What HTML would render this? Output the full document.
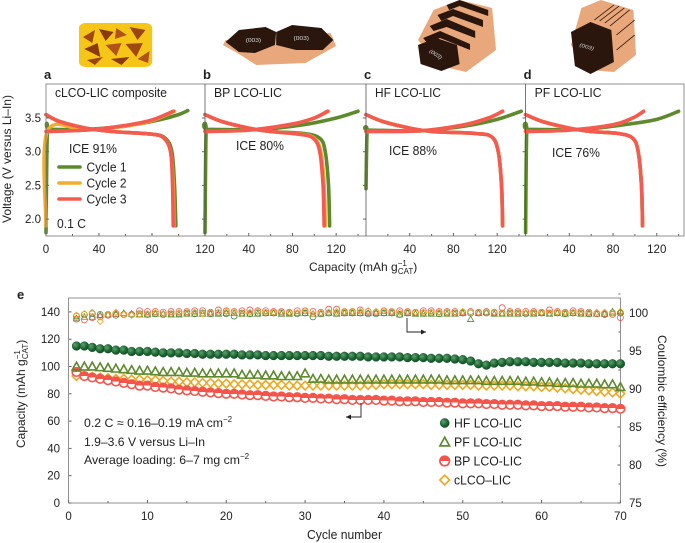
<!DOCTYPE html>
<html><head><meta charset="utf-8"><style>
body{margin:0;background:#fff;width:685px;height:543px;overflow:hidden;font-family:"Liberation Sans",sans-serif}
svg{position:absolute;left:0;top:0}
text{font-family:"Liberation Sans",sans-serif;fill:#222}
</style></head><body>
<svg id="s" width="685" height="543" viewBox="0 0 685 543">
<defs>
<radialGradient id="hfg" cx="0.35" cy="0.35" r="0.7"><stop offset="0" stop-color="#5fa070"/><stop offset="0.6" stop-color="#1f6a35"/><stop offset="1" stop-color="#0f4a22"/></radialGradient>
<linearGradient id="bpg" x1="0" y1="0" x2="0" y2="1"><stop offset="0.5" stop-color="#f4554b"/><stop offset="0.5" stop-color="#fff"/></linearGradient>
</defs>
<g transform="translate(79,23) scale(1.33,1)">
<rect x="0" y="0" width="55" height="44" rx="5" fill="#f5c518"/>
<polygon points="3,14 12,7 10,20" fill="#a0480f"/><polygon points="15,6 26,9 20,18" fill="#8a3a0c"/><polygon points="28,5 36,12 27,16" fill="#b0521a"/>
<polygon points="38,4 50,7 44,17" fill="#9a4512"/><polygon points="4,26 14,20 16,34" fill="#8a3a0c"/><polygon points="20,22 32,20 28,33" fill="#b0521a"/>
<polygon points="35,21 48,20 43,34" fill="#a0480f"/><polygon points="6,37 18,34 12,42" fill="#9a4512"/><polygon points="24,36 38,34 32,42" fill="#8a3a0c"/><polygon points="44,36 53,28 52,40" fill="#b0521a"/>
</g>
<g transform="translate(223,25) scale(1.33,1)">
<polygon points="0,20 12,29 25,40 62,38 85,21 81,8 41,12 2,15" fill="#e8a87c"/>
<polygon points="2,17 12,5 32,2 40,7 39,20 24,28 12,27" fill="#2a160c"/>
<polygon points="40,7 52,0 74,3 83,15 75,25 55,25 40,20" fill="#2a160c"/>
<text x="17" y="17" font-size="5" style="fill:#ddd">(003)</text><text x="53" y="15" font-size="5" style="fill:#ddd">(003)</text>
</g>
<g transform="translate(418,0) scale(1.3,1)">
<polygon points="12,10 32,0 57,8 60,50 37,72 17,66 0,40" fill="#e8a87c"/>
<g fill="#2a160c"><polygon points="22,5 32,0 54,10 54,16 32,6 24,10"/><polygon points="15,15 27,9 50,20 50,27 27,16 18,21"/><polygon points="9,26 22,19 44,31 44,38 22,27 12,31"/><polygon points="4,38 17,31 40,44 40,50 17,38 7,43"/></g>
<polygon points="0,45 14,38 30,45 32,64 18,71 2,64" fill="#2a160c"/>
<text x="7" y="55" font-size="5" style="fill:#ddd" transform="rotate(40 12 55)">(003)</text>
</g>
<g transform="translate(571,0) scale(1.3,1)">
<polygon points="8,8 23,0 48,10 50,55 33,72 15,70 0,45" fill="#e8a87c"/>
<polygon points="0,32 15,22 31,30 33,62 15,74 3,66" fill="#2a160c"/>
<g stroke="#3a2010" stroke-width="0.8"><line x1="18" y1="20" x2="33" y2="5"/><line x1="22" y1="21" x2="37" y2="6"/><line x1="26" y1="23" x2="41" y2="8"/><line x1="30" y1="26" x2="45" y2="10"/><line x1="35" y1="35" x2="49" y2="20"/><line x1="35" y1="50" x2="49" y2="35"/></g>
<text x="6" y="47" font-size="5" style="fill:#ddd" transform="rotate(20 8 47)">(003)</text>
</g>
<g id="topg"></g>
<g id="botg"></g>
</svg>
<script>
const NS='http://www.w3.org/2000/svg';
function el(t,a,p){const e=document.createElementNS(NS,t);for(const k in a)e.setAttribute(k,a[k]);p.appendChild(e);return e;}
const panelTitles=['cLCO-LIC composite','BP LCO-LIC','HF LCO-LIC','PF LCO-LIC'];
const panelLetters=['a','b','c','d'];
const panelIce=['ICE 91%','ICE 80%','ICE 88%','ICE 76%'];
const cycleNames=['Cycle 1','Cycle 2','Cycle 3'];
const voltTicks=[2.0,2.5,3.0,3.5];
const capTicksA=[0,40,80,120];
const capTicksB=[40,80,120];
const chargeA=[[[0,1.8],[1,3.3],[3,3.33],[30,3.33],[60,3.38],[85,3.47],[100,3.55],[107,3.61]],[[0,1.9],[1,3.3],[30,3.32],[60,3.38],[80,3.46],[97,3.6]],[[0,3.3],[30,3.32],[60,3.39],[80,3.47],[96,3.6]]];
const dischA=[[[0,3.55],[10,3.45],[30,3.35],[50,3.3],[80,3.26],[90,3.2],[95,3.0],[97,2.5],[98,1.9]],[[0,3.55],[10,3.45],[30,3.35],[50,3.3],[80,3.26],[89,3.2],[94,3.0],[96,2.5],[96.5,1.9]],[[0,3.55],[10,3.45],[30,3.35],[50,3.3],[80,3.26],[89,3.2],[94,3.0],[95.5,2.5],[96,1.9]]];
const chargeB=[[[0,1.8],[1,3.3],[3,3.33],[50,3.33],[90,3.4],[120,3.5],[140,3.6]],[[0,3.3],[40,3.32],[80,3.41],[100,3.5],[113,3.6]],[[0,3.3],[40,3.32],[80,3.41],[100,3.5],[112,3.6]]];
const dischB=[[[0,3.55],[15,3.45],[40,3.35],[60,3.3],[90,3.27],[105,3.2],[110,3.0],[113,2.5],[114,1.9]],[[0,3.55],[15,3.45],[40,3.35],[60,3.3],[88,3.26],[100,3.2],[106,3.0],[109,2.5],[110,1.9]],[[0,3.55],[15,3.45],[40,3.35],[60,3.3],[86,3.26],[99,3.2],[105,3.0],[108,2.5],[109,1.9]]];
const chargeC=[[[0,2.45],[1,3.3],[3,3.32],[50,3.31],[90,3.38],[120,3.48],[142,3.6]],[[0,3.3],[50,3.31],[90,3.4],[112,3.5],[125,3.6]],[[0,3.3],[50,3.31],[90,3.4],[112,3.5],[125,3.6]]];
const dischC=[[[0,3.55],[15,3.45],[40,3.35],[60,3.3],[100,3.27],[115,3.22],[121,3.0],[124,2.5],[125,1.9]],[[0,3.55],[15,3.45],[40,3.35],[60,3.3],[100,3.27],[115,3.22],[121,3.0],[124,2.5],[125,1.9]],[[0,3.55],[15,3.45],[40,3.35],[60,3.3],[100,3.27],[115,3.22],[121,3.0],[124,2.5],[125,1.9]]];
const chargeD=[[[0,1.8],[1,3.3],[3,3.33],[50,3.33],[90,3.4],[120,3.48],[140,3.6]],[[0,3.3],[40,3.32],[80,3.4],[98,3.5],[108,3.6]],[[0,3.3],[40,3.32],[80,3.4],[98,3.5],[108,3.6]]];
const dischD=[[[0,3.55],[15,3.45],[40,3.35],[60,3.3],[85,3.27],[98,3.2],[103,3.0],[106,2.5],[107,1.9]],[[0,3.55],[15,3.45],[40,3.35],[60,3.3],[85,3.27],[98,3.2],[103,3.0],[106,2.5],[107,1.9]],[[0,3.55],[15,3.45],[40,3.35],[60,3.3],[85,3.27],[98,3.2],[103,3.0],[106,2.5],[107,1.9]]];
const cycles=Array.from({length:70},(_,i)=>i+1);
const capTicks=[0,20,40,60,80,100,120,140];
const ceTicks=[75,80,85,90,95,100];
const cycleTicks=[0,10,20,30,40,50,60,70];
const hfCap=[115,115,114,113,113,112,112,111,111,111,110.5,110,110,110,109.5,109.5,109,109,109,109,109,108.5,108.5,108.5,108,108,108,108,108,108,108,108,107.5,107.5,107.5,107.5,107.5,107,107,107,107,107,106.5,106.5,106.5,106,106,106,105.5,105,104,102,101,102.5,103,103.5,103.5,103.5,103,103,103,103,102.5,102.5,102.5,102,102,102,102,102];
const pfCap=[100,100,100,99.5,99,98.5,98,97.5,97,97,96.5,96,96,96,95.5,95.5,95,95,95,95,95,94,94,94,93.5,93.5,93,93,93,95,91,91,90.5,90.5,90.5,90.5,90.5,90.5,90.5,90.5,90.5,90.5,90.5,90.5,90.5,90.5,90.5,90,90,90,90,90,89.5,89.5,89.5,89.5,89.5,89,89,88.5,88.5,88,88,88,87.5,87.5,87.5,87,87,85];
const bpCap=[96,93,92,91,90,89,88,87,86,86,85,84.5,84,83,82.5,82,81.5,81,80.5,80,80,79.5,79,79,78.5,78,78,77.5,77.5,77,77,76.5,76.5,76,76,75.5,75.5,75.5,75.5,75,75,74.5,74.5,74.5,74,74,74,73.5,73.5,73,73,73,72.5,72.5,72,72,72,71.5,71.5,71,71,71,70.5,70.5,70.5,70,70,69.5,69.5,69];
const clcoCap=[93,93,92.5,92,91.5,91,91,90.5,90.5,90,90,89.5,89,89,88.5,88.5,88,88,87.5,87.5,87,87,87,86.5,86.5,86.5,86.5,86,86,86,86,86,86,86,86,86,86,86.5,86.5,87,87,87,87,87,87,86.5,86.5,86.5,86.5,86.5,86.5,86,86,86,86,86,85.5,85.5,85.5,85,85,84.5,84,83.5,83,82.5,82,81.5,81,80];
const hfCE=[99.6,99.8,99.9,99.8,99.8,99.7,99.8,99.8,99.9,99.8,99.9,99.8,99.9,99.9,100,99.9,100,99.9,100,99.9,99.6,100,99.9,100,100,100,100,100,99.9,100,99.5,99.9,100,100,100,100,100,99.9,99.9,100,100,99.8,100,100,100,100,99.9,100,100,100,100,100,100,100,100,100,100,99.9,100,100,100,100,99.9,100,100,99.9,99.9,99.8,100,100];
const pfCE=[99.3,99.5,99.5,99.7,99.8,99.9,100,99.9,99.8,99.8,99.9,99.9,99.8,99.8,99.9,99.9,99.9,99.9,99.9,100,100,99.9,99.9,99.9,100,100,99.9,99.9,100,100,99.9,99.9,100,99.9,100,100,100,100,100,100,100,99.8,100,99.9,99.9,99.9,99.9,99.9,99.9,100,99.2,100,100.1,99.9,99.9,99.9,99.9,100,99.9,100,99.9,100,99.9,100,99.9,99.9,99.9,99.9,100.2,100.2];
const bpCE=[99.2,99.1,99.4,99.5,99.7,99.9,99.8,99.8,100.3,100.2,100.2,100.1,100.2,100.2,100.2,100.3,100.3,100.1,100.4,100.3,100.2,100.3,100.4,100.3,100.3,100.2,100.2,100.1,100.3,100.3,100.2,100.1,100.5,100.5,100.2,100.2,100.4,100.2,100.1,100.3,100.2,100.3,100.2,100.1,100.3,100.3,100.2,100.2,100.2,100.1,100.2,100.1,100.2,100.1,100.7,100.2,100.2,100.2,100.2,100.1,100.4,100.2,100.1,100.3,100.2,100.1,99.9,99.9,99.8,99.4];
const clcoCE=[99.7,99.9,100.1,98.9,99.8,100.1,99.8,99.7,99.8,99.9,100,99.9,99.9,100,100,100.1,99.9,100.1,100.1,100.2,100.1,100,100.1,100.2,100.1,100.1,100.2,100.1,100,100.3,99.9,100,100.1,100.2,100.2,100.2,100.2,100.3,100.2,100.3,100.2,100.1,100.2,100.1,100.1,100.1,100.1,100.1,100,100.2,100.1,100.1,100.1,100.1,100,100,100,100,100,100.1,100,100.1,100.1,100.1,100,100.1,100.1,100.1,100,100.2];
const legendNames=['HF LCO-LIC','PF LCO-LIC','BP LCO-LIC','cLCO\u2013LIC'];

function fit(t,w){t.setAttribute('textLength',w);t.setAttribute('lengthAdjust','spacingAndGlyphs');}
const tg=document.getElementById('topg');
const colors=['#5d8a2c','#f2ac2e','#f45a50'];
const vy=v=>118+(3.5-v)*67.4;
const PL=46,PR=684,PT=84,PB=236;
const panels=[{x0:46,k:1.325,ch:chargeA,di:dischA},{x0:205,k:1.093,ch:chargeB,di:dischB},{x0:366,k:1.093,ch:chargeC,di:dischC},{x0:525.6,k:1.093,ch:chargeD,di:dischD}];
function smooth(pts){let d='M'+pts[0][0]+','+pts[0][1];for(let i=0;i<pts.length-1;i++){const p0=pts[i-1]||pts[i],p1=pts[i],p2=pts[i+1],p3=pts[i+2]||p2;
d+=' C'+(p1[0]+(p2[0]-p0[0])/6)+','+(p1[1]+(p2[1]-p0[1])/6)+' '+(p2[0]-(p3[0]-p1[0])/6)+','+(p2[1]-(p3[1]-p1[1])/6)+' '+p2[0]+','+p2[1];}return d;}
const titleW=[112,68,66,67];
const iceX=[69,236,389,552], iceY=[153,150,155,157];
panels.forEach((p,pi)=>{
  const cx=c=>p.x0+c*p.k;
  const lt=el('text',{x:p.x0-2,y:79,'font-size':13,'font-weight':'bold'},tg);lt.textContent=panelLetters[pi];
  
  
  const tt=el('text',{x:p.x0+9,y:97,'font-size':12.5},tg);tt.textContent=panelTitles[pi];fit(tt,titleW[pi]);
  
  
  for(let c=0;c<3;c++){
    [p.ch[c],p.di[c]].forEach(arr=>{
      const pts=arr.map(q=>[cx(q[0]),vy(q[1])]);
      const path=el('path',{d:smooth(pts),fill:'none',stroke:colors[c],'stroke-width':3.6,'stroke-linecap':'round','stroke-linejoin':'round'},tg);
      
      
    });
  }
  const ice=el('text',{x:iceX[pi],y:iceY[pi],'font-size':12.5},tg);ice.textContent=panelIce[pi];fit(ice,48);
  
  
  const ticks=pi===0?capTicksA:capTicksB;
  ticks.forEach(t=>{const x=cx(t);el('line',{x1:x,x2:x,y1:PB,y2:PB-3,stroke:'#666'},tg);
    const tx=el('text',{x:x,y:253,'font-size':11.5,'text-anchor':'middle'},tg);tx.textContent=t;
    
    });
  [20,60,100,140].forEach(t=>{const x=cx(t);if(x<p.x0+157)el('line',{x1:x,x2:x,y1:PB,y2:PB-2,stroke:'#666'},tg);});
  if(pi>0)[2.0,2.5,3.0,3.5].forEach(v=>el('line',{x1:p.x0-3,x2:p.x0,y1:vy(v),y2:vy(v),stroke:'#666'},tg));
});
el('rect',{x:PL,y:PT,width:PR-PL,height:PB-PT,fill:'none',stroke:'#777','stroke-width':0.8},tg);
[205,366,525.6].forEach(x=>el('line',{x1:x,x2:x,y1:PT,y2:PB,stroke:'#555','stroke-width':0.8},tg));
voltTicks.forEach(v=>{el('line',{x1:PL,x2:PL+3,y1:vy(v),y2:vy(v),stroke:'#666'},tg);
  const t=el('text',{x:41,y:vy(v)+4,'font-size':11.5,'text-anchor':'end'},tg);t.textContent=v.toFixed(1);
  
  });
const vl=el('text',{transform:'translate(11,159) rotate(-90)','font-size':12,'text-anchor':'middle'},tg);vl.textContent='Voltage (V versus Li\u2013In)';fit(vl,128);


const cl=el('text',{x:309,y:271,'font-size':12},tg);cl.innerHTML='Capacity (mAh g<tspan dy="-5" font-size="8">\u22121</tspan><tspan dx="-9" dy="8" font-size="8">CAT</tspan><tspan dy="-3">)</tspan>';


cycleNames.forEach((n,i)=>{const y=167+i*16;el('line',{x1:59,x2:80,y1:y,y2:y,stroke:colors[i],'stroke-width':3.6,'stroke-linecap':'round'},tg);
  const t=el('text',{x:86.5,y:y+4.5,'font-size':12.5},tg);t.textContent=n;fit(t,40);
  
  });
const rc=el('text',{x:57,y:228,'font-size':12.5},tg);rc.textContent='0.1 C';fit(rc,29);



const bg=document.getElementById('botg');
const BL=68.6,BR=620.4,BT=298,BB=503;
const X=c=>BL+c*(BR-BL)/70, Y=v=>BB-v*191.1/140, YR=v=>BB-(v-75)*7.6;
el('rect',{x:BL,y:BT,width:BR-BL,height:BB-BT,fill:'none',stroke:'#777','stroke-width':0.8},bg);
capTicks.forEach(v=>{el('line',{x1:BL,x2:BL+3,y1:Y(v),y2:Y(v),stroke:'#666'},bg);
  const t=el('text',{x:60,y:Y(v)+4,'font-size':11.5,'text-anchor':'end'},bg);t.textContent=v;
  
  });
ceTicks.forEach(v=>{el('line',{x1:BR-3,x2:BR,y1:YR(v),y2:YR(v),stroke:'#666'},bg);
  el('line',{x1:BR-2,x2:BR,y1:YR(v+2.5),y2:YR(v+2.5),stroke:'#666'},bg);
  const t=el('text',{x:629,y:YR(v)+4,'font-size':11.5},bg);t.textContent=v;
  
  });
cycleTicks.forEach(c=>{el('line',{x1:X(c),x2:X(c),y1:BB,y2:BB-3,stroke:'#666'},bg);
  if(c<70)el('line',{x1:X(c+5),x2:X(c+5),y1:BB,y2:BB-2,stroke:'#666'},bg);
  const t=el('text',{x:X(c),y:520,'font-size':11.5,'text-anchor':'middle'},bg);t.textContent=c;
  
  });
const el1=el('text',{x:17,y:299,'font-size':13,'font-weight':'bold'},bg);el1.textContent='e';


const xt=el('text',{x:307,y:539,'font-size':12.5},bg);xt.textContent='Cycle number';fit(xt,75);


const yt=el('text',{transform:'translate(25,448) rotate(-90)','font-size':12},bg);yt.innerHTML='Capacity (mAh g<tspan dy="-5" font-size="8">\u22121</tspan><tspan dx="-9" dy="8" font-size="8">CAT</tspan><tspan dy="-3">)</tspan>';


const yt2=el('text',{transform:'translate(658,401) rotate(90)','font-size':12,'text-anchor':'middle'},bg);yt2.textContent='Coulombic efficiency (%)';fit(yt2,132);


function marker(kind,x,y,r,sw){
  let m;
  if(kind==='hf')m=el('circle',{cx:x,cy:y,r:r,fill:'url(#hfg)',stroke:'#0f4a22','stroke-width':0.4},bg);
  else if(kind==='pf')m=el('polygon',{points:`${x},${y-r} ${x+r},${y+r*0.8} ${x-r},${y+r*0.8}`,fill:'none',stroke:'#5d8a2c','stroke-width':sw},bg);
  else if(kind==='bp')m=el('circle',{cx:x,cy:y,r:r,fill:'url(#bpg)',stroke:'#f4554b','stroke-width':sw},bg);
  else m=el('polygon',{points:`${x},${y-r} ${x+r},${y} ${x},${y+r} ${x-r},${y}`,fill:'none',stroke:'#f0a820','stroke-width':sw},bg);
  return m;
}
[['pf',pfCE],['hf',hfCE],['bp',bpCE],['clco',clcoCE]].forEach(([k,arr])=>{
  arr.forEach((v,i)=>{let m;const x=X(cycles[i]),y=YR(v);
    if(k==='hf')m=el('circle',{cx:x,cy:y,r:3,fill:'none',stroke:'#3f8a4a','stroke-width':0.8},bg);
    else if(k==='bp')m=el('circle',{cx:x,cy:y,r:3,fill:'none',stroke:'#f4554b','stroke-width':0.8},bg);
    else m=marker(k,x,y,3.1,0.8);
    
    });
});
[['clco',clcoCap],['bp',bpCap],['pf',pfCap],['hf',hfCap]].forEach(([k,arr])=>{
  arr.forEach((v,i)=>{const m=marker(k,X(cycles[i]),Y(v),k==='hf'?4.4:4.3,1.6);
    
    });
});
el('path',{d:'M407,318 L407,332 L426,332',fill:'none',stroke:'#222','stroke-width':0.9},bg);
el('path',{d:'M426,332 l-5,-2.5 v5 z',fill:'#222'},bg);
el('path',{d:'M361,403 L361,417 L346,417',fill:'none',stroke:'#222','stroke-width':0.9},bg);
el('path',{d:'M346,417 l5,-2.5 v5 z',fill:'#222'},bg);
[['0.2 C \u2248 0.16\u20130.19 mA cm','\u22122',427,139],['1.9\u20133.6 V versus Li\u2013In','',446,121],['Average loading: 6\u20137 mg cm','\u22122',464,156]].forEach(([s,sup,y,w])=>{
  const t=el('text',{x:84,y:y,'font-size':12},bg);
  const a=el('tspan',{},t);a.textContent=s;fit(a,w);
  if(sup){const ts=el('tspan',{dy:-5,'font-size':8},t);ts.textContent=sup;}
  
  });
['hf','pf','bp','clco'].forEach((k,i)=>{const y=423+i*19;
  const m=marker(k,444.7,y,k==='hf'?4.6:4.8,1.7);
  
  
  const t=el('text',{x:454,y:y+4.5,'font-size':12.5},bg);t.textContent=legendNames[i];fit(t,i===3?57:68);
  
  });
</script>
</body></html>
